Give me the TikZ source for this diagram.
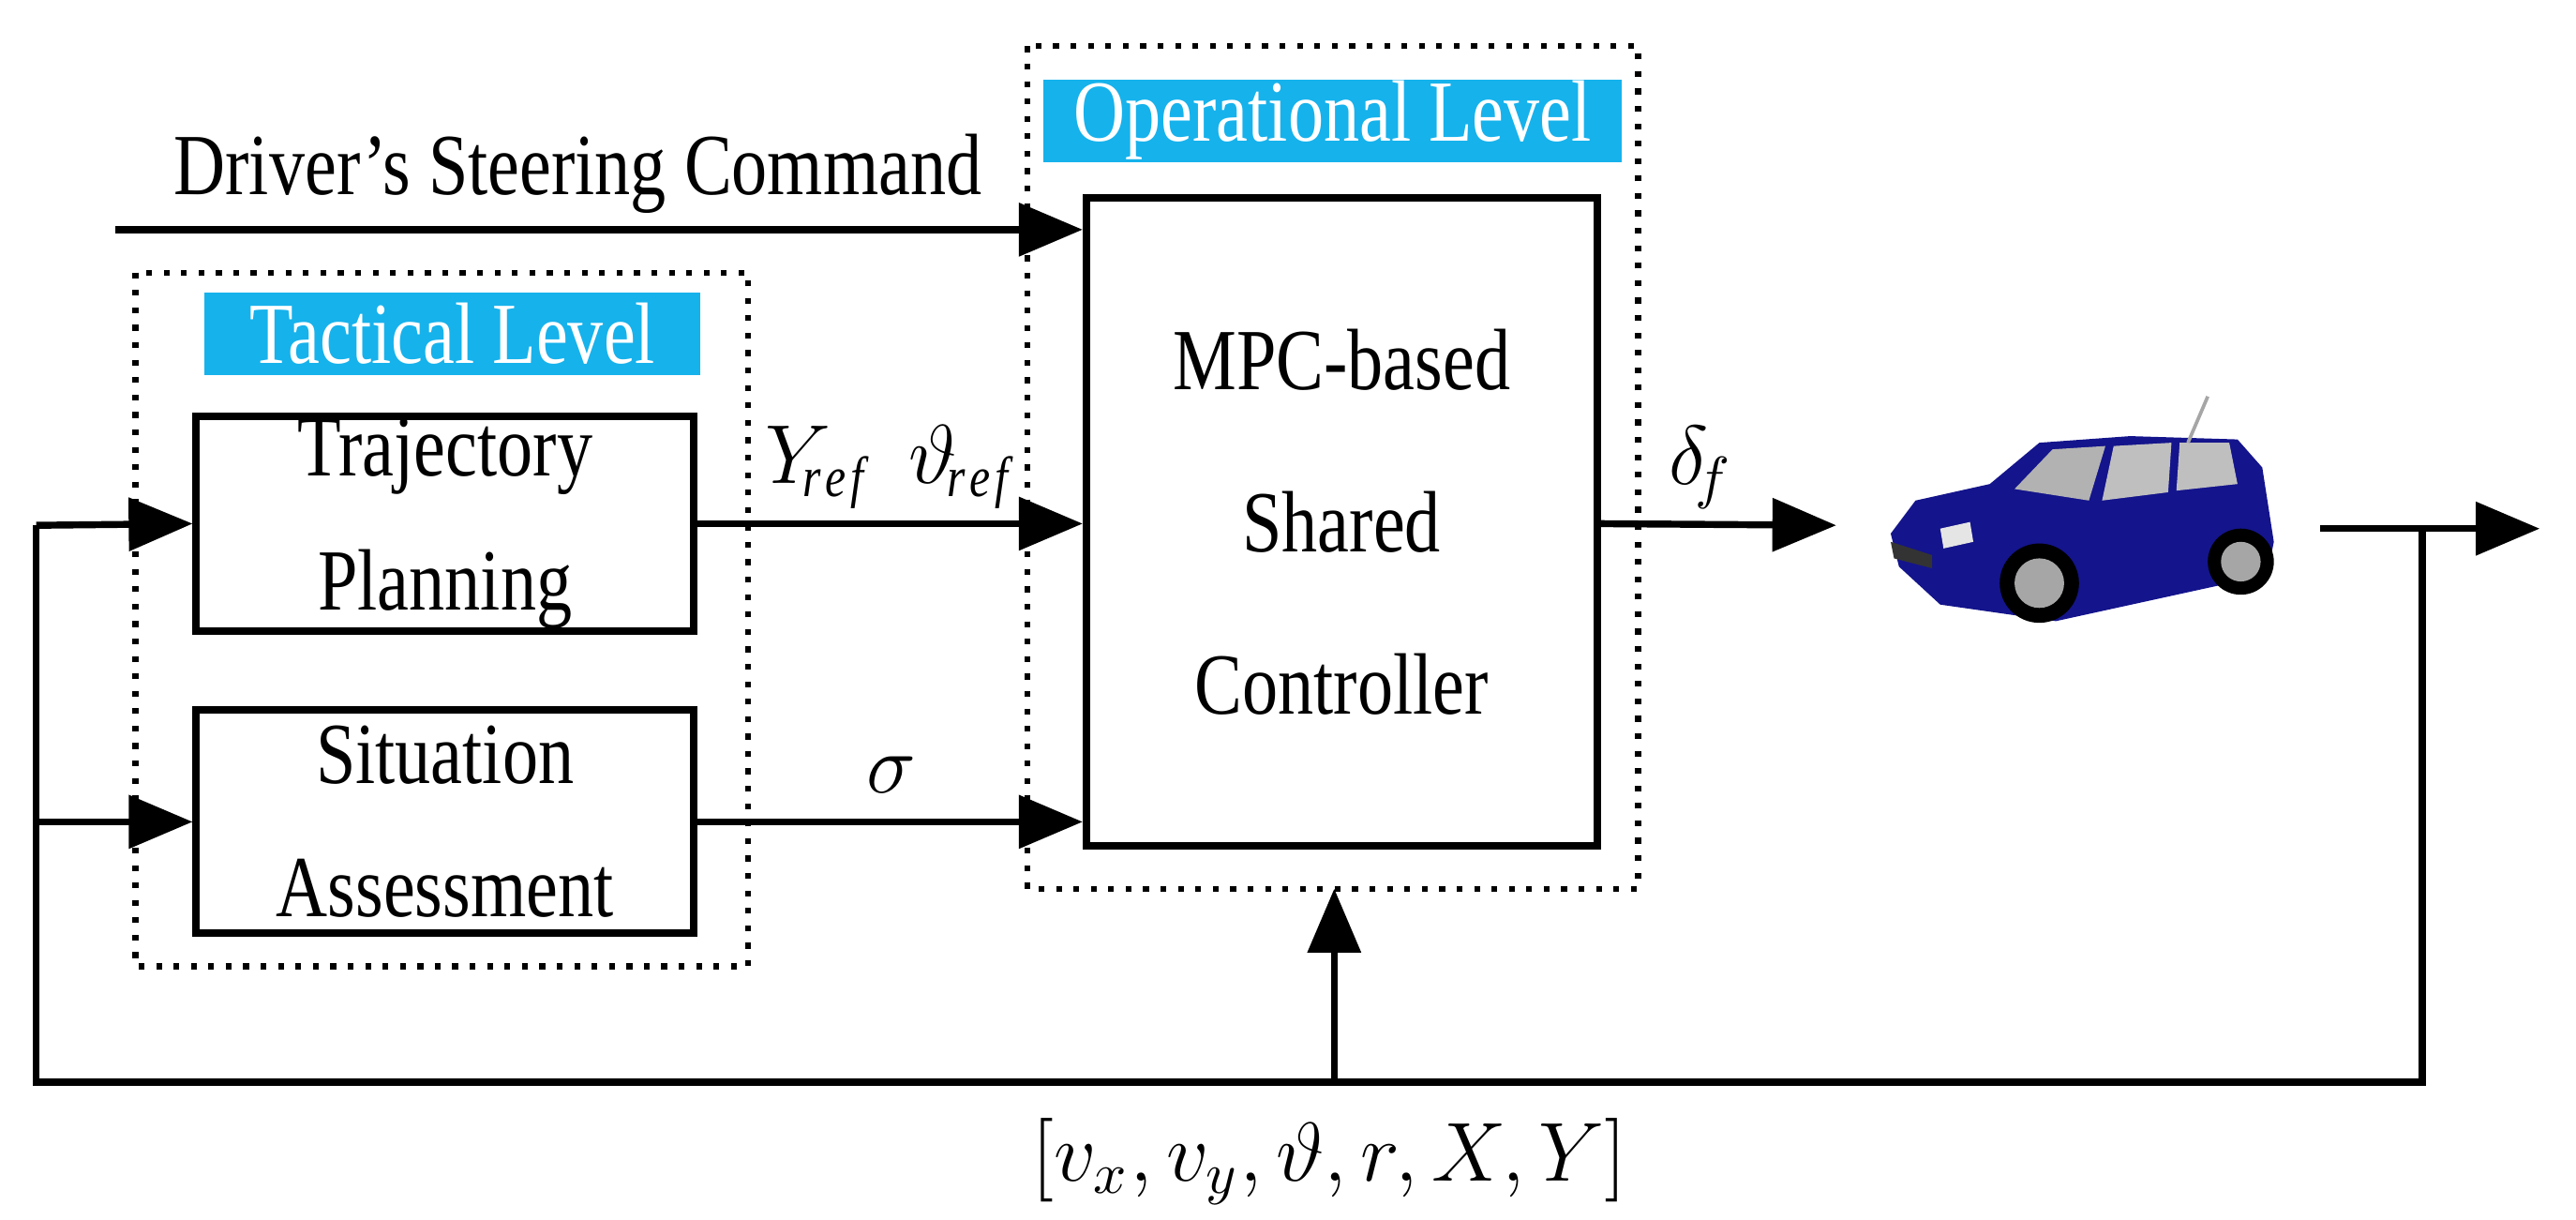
\documentclass[tikz,border=0pt]{standalone}
\usepackage{fontspec}
\setmainfont{Liberation Serif}[FakeStretch=0.82]
\usetikzlibrary{arrows.meta}
\definecolor{lab}{RGB}{22,178,236}
\definecolor{carblue}{RGB}{20,20,140}
\begin{document}
\begin{tikzpicture}[x=0.01cm,y=-0.01cm,
  blk/.style={draw,line width=1.3pt,align=center,font=\fontsize{15}{22}\selectfont,inner sep=0pt},
  lvl/.style={fill=lab,text=white,inner sep=0pt,font=\fontsize{15}{18}\selectfont},
  grp/.style={draw,dotted,line width=1pt},
  ln/.style={line width=1.2pt},
  arr/.style={ln,-{Triangle[length=11pt,width=9pt]}},
  lbl/.style={font=\fontsize{14}{18}\selectfont,inner sep=1pt}]
\useasboundingbox (0,0) rectangle (1560,738);
% groups
\draw[grp] (622,28) rectangle (992,538);
\draw[grp] (82,165) rectangle (453,585);
\node[lvl,minimum width=3.5cm,minimum height=0.5cm] (ol) at (807,73) {Operational Level};
\node[lvl,minimum width=3.0cm,minimum height=0.5cm] (tl) at (274,202) {Tactical Level};
% blocks
\node[blk,minimum width=3.09cm,minimum height=3.92cm] (mpc) at (812.5,316) {MPC-based\\[6pt]Shared\\[6pt]Controller};
\node[blk,minimum width=3.01cm,minimum height=1.3cm] (tp) at (269.5,317) {Trajectory\\[1pt]Planning};
\node[blk,minimum width=3.01cm,minimum height=1.35cm] (sa) at (269.5,497.5) {Situation\\[1pt]Assessment};
% car
\begin{scope}[shift={(1115,248)}]
\fill[carblue] (35,95) -- (30,75) -- (45,55) -- (90,45) -- (120,20) -- (175,16) -- (240,18) -- (255,35) -- (262,80) -- (258,100) -- (130,128) -- (60,118) -- cycle;
\fill[gray!60] (105,48) -- (128,24) -- (160,22) -- (150,55) -- cycle;
\fill[gray!50] (165,22) -- (200,20) -- (198,50) -- (158,55) -- cycle;
\fill[gray!50] (205,20) -- (235,20) -- (240,45) -- (203,49) -- cycle;
\draw[gray!70,line width=0.6pt] (210,20) -- (222,-8);
\fill[gray!20] (60,72) -- (78,68) -- (80,80) -- (62,84) -- cycle;
\fill[black!80] (30,80) -- (55,88) -- (55,96) -- (32,90) -- cycle;
\fill[black] (120,105) circle (0.24cm);
\fill[gray!70] (120,105) circle (0.15cm);
\fill[black] (242,92) circle (0.2cm);
\fill[gray!70] (242,92) circle (0.12cm);
\end{scope}
% coordinates
\coordinate (ds) at (70,139);
\coordinate (fl) at (22,318);
\coordinate (fb) at (22,655);
\coordinate (fr) at (1467,655);
\coordinate (fo) at (1467,320);
\coordinate (out) at (1538,320);
\coordinate (fm) at (808,655);
\coordinate (dfe) at (1112,318);
% connectors
\draw[arr] (ds) -- (ds -| mpc.west);
\node[lbl,anchor=base,font=\fontsize{15}{18}\selectfont] (dsl) at (350,118) {Driver's Steering Command};
\draw[arr] (tp.east) -- (tp.east -| mpc.west);
\draw[arr] (sa.east) -- (sa.east -| mpc.west);
\node[lbl,anchor=south] (yr) at (495,312) {$Y_{\!\mathit{ref}}$};
\node[lbl,anchor=south] (tr) at (582,312) {$\vartheta_{\!\mathit{ref}}$};
\node[lbl,anchor=south] (sg) at (540,484) {$\sigma$};
\draw[arr] (mpc.east |- tp.east) -- (dfe);
\node[lbl,anchor=south] (df) at (1030,312) {$\delta_{\!f}$};
\draw[ln] (1405,320) -- (fo);
\draw[arr] (fo) -- (out);
\draw[ln] (fo) -- (fr) -- (fb) -- (fl);
\draw[arr] (fl) -- (tp.west);
\draw[arr] (fl |- sa.west) -- (sa.west);
\draw[arr] (fm) -- (808,538);
\node[lbl] (st) at (805,703) {$[v_x,v_y,\vartheta,r,X,Y]$};
\end{tikzpicture}
\end{document}
